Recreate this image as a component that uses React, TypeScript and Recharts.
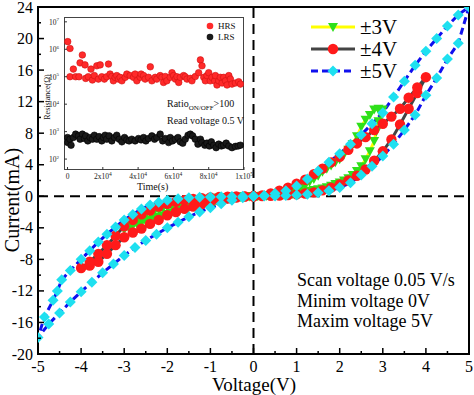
import {
  ComposedChart,
  Line,
  XAxis,
  YAxis,
  ReferenceLine,
  ReferenceArea,
  Legend,
  ScatterChart,
  Scatter,
} from "recharts";

const SERIF = "Liberation Serif, Times New Roman, serif";

// I-V loops, [voltage (V), current (mA)] in sweep order
const loop3: [number, number][] = [
  [0, 0], [0.1, 0.02], [0.2, 0.04], [0.3, 0.06], [0.4, 0.08], [0.5, 0.1], [0.6, 0.15], [0.7, 0.2],
  [0.8, 0.25], [0.9, 0.3], [1, 0.4], [1.1, 0.5], [1.2, 0.6], [1.3, 0.7], [1.4, 0.8], [1.5, 0.9],
  [1.6, 1], [1.7, 1.15], [1.8, 1.35], [1.9, 1.55], [2, 1.75], [2.1, 2], [2.2, 2.3], [2.3, 2.7],
  [2.4, 3.2], [2.5, 3.8], [2.6, 4.7], [2.7, 5.7], [2.8, 7], [2.85, 8.2], [2.9, 9.5], [2.95, 10.5],
  [3, 11], [2.9, 11.1], [2.8, 11], [2.7, 10.3], [2.6, 9.7], [2.5, 8.8], [2.4, 7.6], [2.3, 6.6],
  [2.2, 5.9], [2.1, 5.3], [2, 4.7], [1.9, 4.3], [1.8, 3.9], [1.7, 3.5], [1.6, 3.1], [1.5, 2.6],
  [1.4, 2.2], [1.3, 1.8], [1.2, 1.4], [1.1, 1.1], [1, 0.85], [0.9, 0.65], [0.8, 0.5], [0.7, 0.38],
  [0.6, 0.28], [0.5, 0.2], [0.4, 0.14], [0.3, 0.1], [0.2, 0.06], [0.1, 0.03], [0, 0],
  [-0.1, -0.03], [-0.2, -0.06], [-0.3, -0.1], [-0.4, -0.17], [-0.5, -0.25], [-0.6, -0.33],
  [-0.7, -0.42], [-0.8, -0.52], [-0.9, -0.62], [-1, -0.72], [-1.1, -0.84], [-1.2, -0.96],
  [-1.3, -1.1], [-1.4, -1.25], [-1.5, -1.4], [-1.6, -1.55], [-1.7, -1.7], [-1.8, -1.88],
  [-1.9, -2.06], [-2, -2.25], [-2.1, -2.42], [-2.2, -2.6], [-2.3, -2.78], [-2.4, -2.97],
  [-2.5, -3.16], [-2.6, -3.35], [-2.7, -3.55], [-2.8, -3.75], [-2.9, -3.95], [-3, -4.2],
  [-2.9, -3.6], [-2.8, -3.2], [-2.7, -2.9], [-2.6, -2.6], [-2.5, -2.35], [-2.4, -2.1],
  [-2.3, -1.9], [-2.2, -1.7], [-2.1, -1.5], [-2, -1.35], [-1.9, -1.2], [-1.8, -1.05],
  [-1.7, -0.92], [-1.6, -0.8], [-1.5, -0.7], [-1.4, -0.6], [-1.3, -0.5], [-1.2, -0.42],
  [-1.1, -0.35], [-1, -0.28], [-0.9, -0.22], [-0.8, -0.17], [-0.7, -0.13], [-0.6, -0.1],
  [-0.5, -0.07], [-0.4, -0.05], [-0.3, -0.03], [-0.2, -0.02], [-0.1, -0.01], [0, 0],
];

const loop4: [number, number][] = [
  [0, 0], [0.2, 0.02], [0.4, 0.05], [0.6, 0.1], [0.8, 0.15], [1, 0.25], [1.2, 0.35], [1.4, 0.5],
  [1.6, 0.75], [1.8, 1.1], [2, 1.5], [2.2, 2], [2.4, 2.6], [2.6, 3.4], [2.8, 4.5], [3, 5.7],
  [3.2, 7.2], [3.4, 9.1], [3.6, 11.1], [3.8, 13.1], [4, 15.1],
  [3.8, 13.8], [3.6, 12.5], [3.4, 11.1], [3.2, 10.1], [3, 9.2], [2.8, 8.4], [2.6, 7.5], [2.4, 6.7],
  [2.2, 5.9], [2, 5], [1.8, 4.3], [1.6, 3.5], [1.4, 2.8], [1.2, 2.1], [1, 1.6], [0.8, 1.1],
  [0.6, 0.7], [0.4, 0.35], [0.2, 0.1], [0, 0],
  [-0.2, -0.05], [-0.4, -0.15], [-0.6, -0.3], [-0.8, -0.5], [-1, -0.7], [-1.2, -1], [-1.4, -1.3],
  [-1.6, -1.6], [-1.8, -2], [-2, -2.4], [-2.2, -3], [-2.4, -3.5], [-2.6, -4.1], [-2.8, -4.6],
  [-3, -5.2], [-3.2, -6.2], [-3.4, -7.3], [-3.6, -8.3], [-3.8, -8.8], [-4, -9.1],
  [-3.8, -8.3], [-3.6, -7.3], [-3.4, -6.2], [-3.2, -5], [-3, -3.8], [-2.8, -3], [-2.6, -2.3],
  [-2.4, -1.8], [-2.2, -1.3], [-2, -0.95], [-1.8, -0.7], [-1.6, -0.5], [-1.4, -0.35],
  [-1.2, -0.25], [-1, -0.15], [-0.8, -0.1], [-0.6, -0.06], [-0.4, -0.03], [-0.2, -0.01], [0, 0],
];

const loop5: [number, number][] = [
  [0, 0], [0.25, 0.02], [0.5, 0.05], [0.75, 0.1], [1, 0.15], [1.25, 0.25], [1.5, 0.45],
  [1.75, 0.7], [2, 1.1], [2.25, 1.7], [2.5, 2.7], [2.75, 3.8], [3, 5.1], [3.25, 6.6], [3.5, 8.4],
  [3.75, 10.3], [4, 12.8], [4.25, 15], [4.5, 17.4], [4.75, 19.4], [5, 24],
  [4.75, 23], [4.5, 21.6], [4.25, 20], [4, 18.4], [3.75, 16.6], [3.5, 14.6], [3.25, 12.6],
  [3, 10.6], [2.75, 9.2], [2.5, 7.8], [2.25, 6.6], [2, 5.4], [1.75, 4.3], [1.5, 3.2],
  [1.25, 2.2], [1, 1.3], [0.75, 0.7], [0.5, 0.35], [0.25, 0.1], [0, 0],
  [-0.25, -0.2], [-0.5, -0.5], [-0.75, -0.95], [-1, -1.45], [-1.25, -2], [-1.5, -2.6],
  [-1.75, -3.3], [-2, -4], [-2.25, -4.8], [-2.5, -5.6], [-2.75, -6.5], [-3, -7.5],
  [-3.25, -8.6], [-3.5, -9.7], [-3.75, -10.9], [-4, -12.1], [-4.25, -13.4], [-4.5, -14.8],
  [-4.75, -16.2], [-5, -17.9],
  [-4.85, -15.3], [-4.65, -13.2], [-4.55, -12], [-4.45, -10.6], [-4.25, -9.4], [-4, -8],
  [-3.8, -6.9], [-3.6, -5.8], [-3.4, -4.8], [-3.2, -3.9], [-3, -3], [-2.8, -2.3], [-2.6, -1.6],
  [-2.4, -1.1], [-2.2, -0.75], [-2, -0.5], [-1.75, -0.3], [-1.5, -0.2], [-1.25, -0.12],
  [-1, -0.08], [-0.75, -0.05], [-0.5, -0.03], [-0.25, -0.01], [0, 0],
];

const xTicks = [-5, -4.5, -4, -3.5, -3, -2.5, -2, -1.5, -1, -0.5, 0, 0.5, 1, 1.5, 2, 2.5, 3, 3.5, 4, 4.5, 5];
const yTicks = [-20, -18, -16, -14, -12, -10, -8, -6, -4, -2, 0, 2, 4, 6, 8, 10, 12, 14, 16, 18, 20, 22, 24];
const yMajor = [-20, -16, -12, -8, -4, 0, 4, 8, 12, 16, 20, 24];

// inset: retention, [time (s), resistance (ohm)]
const hrs: [number, number][] = [
  [100, 1.9e6], [1400, 1.07e6], [1400, 1.0e5], [3300, 1.9e5], [4600, 1.0e5], [6500, 1.0e5],
  [7100, 3.2e5], [8400, 6.2e5], [9900, 2.7e5], [10300, 8.7e4], [11800, 1.0e5], [13300, 1.9e5],
  [14100, 7.6e4], [15200, 1.1e5], [16600, 2.5e5], [17500, 8.2e4], [18500, 2.7e5], [19400, 1.0e5],
  [20900, 8.2e4], [22200, 1.0e5], [23200, 2.9e5], [24100, 1.25e5], [25100, 1.02e5], [26000, 7.1e4],
  [27000, 9.5e4], [27900, 1.1e5], [28900, 8.2e4], [29800, 9.5e4], [30800, 7.1e4], [32700, 9.5e4],
  [33600, 1.25e5], [35500, 1.1e5], [37400, 9.5e4], [38300, 1.25e5], [39300, 7.1e4], [41200, 9.5e4],
  [41700, 1.25e5], [43100, 1.1e5], [44000, 8.2e4], [45900, 9.5e4], [46900, 2.3e5], [47800, 7.1e4],
  [49700, 9.5e4], [50600, 8.2e4], [52500, 1.1e5], [53500, 9.5e4], [54400, 6.2e4], [55400, 1.02e5],
  [56300, 7.1e4], [58200, 9.5e4], [59200, 1.4e5], [60100, 1.1e5], [61100, 8.2e4], [62000, 1.0e5],
  [63000, 6.2e4], [63900, 9.5e4], [65800, 1.1e5], [66700, 1.0e5], [67700, 8.2e4], [69600, 8.7e4],
  [70500, 7.1e4], [72400, 1.02e5], [74300, 1.4e5], [75300, 4.1e5], [76200, 2.5e5], [77200, 9.5e4],
  [78100, 7.1e4], [79000, 1.1e5], [80000, 1.4e5], [80900, 7.1e4], [81900, 9.5e4], [83400, 7.1e4],
  [83800, 1.1e5], [84700, 5.0e4], [85700, 7.1e4], [86600, 9.5e4], [87600, 5.9e4], [88500, 9.5e4],
  [89500, 7.1e4], [90400, 5.0e4], [91400, 1.1e5], [92300, 8.2e4], [93200, 5.4e4], [95100, 5.9e4],
  [97000, 6.6e4], [98000, 5.4e4],
];

const lrs: [number, number][] = [
  [0, 610], [100, 400], [1400, 530], [2000, 320], [3300, 610], [4600, 810], [6200, 700],
  [7100, 530], [8400, 810], [9600, 560], [10300, 700], [11500, 460], [12800, 610], [14100, 530],
  [15200, 740], [16600, 530], [17900, 660], [19400, 460], [20400, 610], [21300, 740], [22200, 530],
  [23600, 700], [25100, 460], [26600, 610], [27900, 740], [29300, 530], [30800, 425], [32300, 610],
  [33600, 500], [34900, 460], [36400, 530], [38300, 460], [40200, 560], [41700, 500], [43100, 610],
  [44400, 460], [45900, 560], [47800, 700], [49300, 530], [50600, 610], [52500, 810], [53900, 460],
  [55400, 560], [57300, 400], [58200, 610], [59500, 460], [61100, 530], [62600, 610], [63900, 425],
  [65300, 380], [66700, 530], [68300, 740], [69600, 810], [70900, 700], [72400, 530], [73900, 350],
  [75300, 530], [76200, 400], [77800, 320], [79000, 380], [80400, 300], [81500, 425], [82800, 320],
  [84200, 260], [85700, 350], [87200, 300], [88500, 320], [89900, 380], [91400, 300], [93200, 260],
  [95100, 290], [96700, 300], [98000, 320],
];

const insetXTicks = [0, 20000, 40000, 60000, 80000, 100000];
const insetXLabels = ["0", "2x10|4", "4x10|4", "6x10|4", "8x10|4", "1x10|5"];
const insetYTicks = [100, 1000, 10000, 100000, 1000000, 10000000];

const series = [
  { name: "±3V", data: loop3, line: "#ffff00", mark: "#2ee01a", shape: "tri", dash: undefined },
  { name: "±4V", data: loop4, line: "#444444", mark: "#ff1a1a", shape: "circle", dash: undefined },
  { name: "±5V", data: loop5, line: "#1010ee", mark: "#1ee0f0", shape: "diamond", dash: "7 4" },
];

function Marker({ shape, cx, cy, fill }: { shape: string; cx: number; cy: number; fill: string }) {
  if (cx == null || cy == null) return null;
  if (shape === "tri") {
    const s = 5;
    return <polygon points={`${cx - s},${cy - s * 0.8} ${cx + s},${cy - s * 0.8} ${cx},${cy + s}`} fill={fill} />;
  }
  if (shape === "diamond") {
    const s = 5.5;
    return <polygon points={`${cx},${cy - s} ${cx + s},${cy} ${cx},${cy + s} ${cx - s},${cy}`} fill={fill} />;
  }
  return <circle cx={cx} cy={cy} r={5.2} fill={fill} />;
}

function XTick({ x, y, payload }: any) {
  const major = Number.isInteger(payload.value);
  return (
    <g>
      <line x1={x} x2={x} y1={y} y2={y - (major ? 6 : 3)} stroke="#000" strokeWidth={1.5} />
      {major && (
        <text x={x} y={y + 18} textAnchor="middle" fontSize={16} fontFamily={SERIF} fill="#000">
          {payload.value}
        </text>
      )}
    </g>
  );
}

function YTick({ x, y, payload }: any) {
  const major = yMajor.includes(payload.value);
  return (
    <g>
      <line x1={x} x2={x + (major ? 6 : 3)} y1={y} y2={y} stroke="#000" strokeWidth={1.5} />
      {major && (
        <text x={x - 5} y={y + 5.5} textAnchor="end" fontSize={16} fontFamily={SERIF} fill="#000">
          {payload.value}
        </text>
      )}
    </g>
  );
}

function InsetXTick({ x, y, index }: any) {
  const [base, exp] = insetXLabels[index].split("|");
  return (
    <g>
      <line x1={x} x2={x} y1={y} y2={y - 3} stroke="#333" strokeWidth={1} />
      <text x={x} y={y + 9} textAnchor="middle" fontSize={7.5} fontFamily={SERIF} fill="#222">
        {base}
        {exp && (
          <tspan fontSize={5.5} dy={-3.5}>
            {exp}
          </tspan>
        )}
      </text>
    </g>
  );
}

function InsetYTick({ x, y, payload }: any) {
  const exp = Math.round(Math.log10(payload.value));
  return (
    <g>
      <line x1={x} x2={x + 3} y1={y} y2={y} stroke="#333" strokeWidth={1} />
      <text x={x - 5} y={y + 3} textAnchor="end" fontSize={7.5} fontFamily={SERIF} fill="#222">
        10
        <tspan fontSize={5} dy={-3.5}>
          {exp}
        </tspan>
      </text>
    </g>
  );
}

function MainLegend() {
  return (
    <div style={{ fontFamily: SERIF, fontSize: 21, color: "#000" }}>
      {series.map((s) => (
        <div key={s.name} style={{ display: "flex", alignItems: "center", height: 22 }}>
          <svg width={46} height={20}>
            <line x1={1} x2={45} y1={10} y2={10} stroke={s.line} strokeWidth={3} strokeDasharray={s.dash} />
            <Marker shape={s.shape} cx={23} cy={10} fill={s.mark} />
          </svg>
          <span style={{ marginLeft: 4 }}>{s.name}</span>
        </div>
      ))}
    </div>
  );
}

function InsetLegend() {
  const items = [
    { name: "HRS", fill: "#ff2a2a" },
    { name: "LRS", fill: "#1a1a1a" },
  ];
  return (
    <div style={{ fontFamily: SERIF, fontSize: 9, color: "#111" }}>
      {items.map((it) => (
        <div key={it.name} style={{ display: "flex", alignItems: "center", height: 11 }}>
          <svg width={10} height={10}>
            <circle cx={5} cy={5} r={3.3} fill={it.fill} />
          </svg>
          <span style={{ marginLeft: 3 }}>{it.name}</span>
        </div>
      ))}
    </div>
  );
}

export default function App() {
  const hrsData = hrs.map(([t, r]) => ({ t, r }));
  const lrsData = lrs.map(([t, r]) => ({ t, r }));
  return (
    <div style={{ position: "absolute", left: 0, top: 0, width: 474, height: 395, background: "#fff" }}>
      <ComposedChart width={474} height={395} margin={{ top: 7, right: 5, bottom: 0, left: 0 }}>
        <XAxis
          type="number"
          dataKey="v"
          domain={[-5, 5]}
          ticks={xTicks}
          interval={0}
          height={41}
          tickSize={0}
          tickMargin={0}
          tickLine={false}
          axisLine={false}
          tick={<XTick />}
          allowDataOverflow
        />
        <YAxis
          type="number"
          dataKey="i"
          domain={[-20, 24]}
          ticks={yTicks}
          interval={0}
          width={38}
          tickSize={0}
          tickMargin={0}
          tickLine={false}
          axisLine={false}
          tick={<YTick />}
          allowDataOverflow
        />
        <ReferenceArea x1={-5} x2={5} y1={-20} y2={24} fill="none" stroke="#000" strokeWidth={2} />
        <ReferenceLine y={0} stroke="#000" strokeWidth={2} strokeDasharray="10 6" />
        <ReferenceLine x={0} stroke="#000" strokeWidth={2} strokeDasharray="10 6" />
        {series.map((s) => (
          <Line
            key={s.name}
            data={s.data.map(([v, i]) => ({ v, i }))}
            dataKey="i"
            type="linear"
            stroke={s.line}
            strokeWidth={3}
            strokeDasharray={s.dash}
            isAnimationActive={false}
            dot={(p: any) => <Marker key={p.index} shape={s.shape} cx={p.cx} cy={p.cy} fill={s.mark} />}
            activeDot={false}
          />
        ))}
        <Legend
          layout="vertical"
          align="center"
          verticalAlign="middle"
          content={<MainLegend />}
          wrapperStyle={{ position: "absolute", left: 310, top: 16, width: 120 }}
        />
      </ComposedChart>

      <div
        style={{
          position: "absolute",
          left: 64,
          top: 17,
          width: 180,
          height: 153,
          background: "#fff",
          border: "1px solid #444",
          boxSizing: "border-box",
        }}
      />
      <div style={{ position: "absolute", left: 0, top: 0 }}>
        <ScatterChart width={260} height={200} margin={{ top: 17, right: 16, bottom: 0, left: 38 }}>
          <XAxis
            type="number"
            dataKey="t"
            domain={[-2000, 100000]}
            ticks={insetXTicks}
            interval={0}
            height={30}
            tickSize={0}
            tickMargin={0}
            tickLine={false}
            axisLine={false}
            tick={<InsetXTick />}
            allowDataOverflow
          />
          <YAxis
            type="number"
            dataKey="r"
            scale="log"
            domain={[40, 15000000]}
            ticks={insetYTicks}
            interval={0}
            width={26}
            tickSize={0}
            tickMargin={0}
            tickLine={false}
            axisLine={false}
            tick={<InsetYTick />}
            allowDataOverflow
          />
          <Scatter
            data={hrsData}
            isAnimationActive={false}
            shape={(p: any) => <circle cx={p.cx} cy={p.cy} r={3.3} fill="#ff2a2a" stroke="#d01010" strokeWidth={0.6} />}
          />
          <Scatter
            data={lrsData}
            isAnimationActive={false}
            shape={(p: any) => <circle cx={p.cx} cy={p.cy} r={3.3} fill="#1a1a1a" stroke="#000" strokeWidth={0.6} />}
          />
          <Legend
            layout="vertical"
            align="center"
            verticalAlign="middle"
            content={<InsetLegend />}
            wrapperStyle={{ position: "absolute", left: 205, top: 20, width: 40 }}
          />
        </ScatterChart>
      </div>

      <div style={{ position: "absolute", left: 167, top: 98, fontFamily: SERIF, fontSize: 10, color: "#111", whiteSpace: "nowrap" }}>
        Ratio<sub style={{ fontSize: 7 }}>ON/OFF</sub>&gt;100
      </div>
      <div style={{ position: "absolute", left: 167, top: 115, fontFamily: SERIF, fontSize: 10, color: "#111", whiteSpace: "nowrap" }}>
        Read voltage 0.5 V
      </div>
      <div style={{ position: "absolute", left: 137, top: 181, fontFamily: SERIF, fontSize: 10, lineHeight: "11px", color: "#111" }}>Time(s)</div>
      <div
        style={{
          position: "absolute",
          left: 47,
          top: 97,
          fontFamily: SERIF,
          fontSize: 8,
          color: "#111",
          whiteSpace: "nowrap",
          transform: "translate(-50%, -50%) rotate(-90deg)",
        }}
      >
        Resistance(Ω)
      </div>

      <div style={{ position: "absolute", left: 297, top: 270, fontFamily: SERIF, fontSize: 18, lineHeight: "20.5px", color: "#000", whiteSpace: "nowrap" }}>
        <div>Scan voltage 0.05 V/s</div>
        <div>Minim voltage 0V</div>
        <div>Maxim voltage 5V</div>
      </div>
      <div style={{ position: "absolute", left: 254, top: 384, fontFamily: SERIF, fontSize: 19, lineHeight: "19px", color: "#000", whiteSpace: "nowrap", transform: "translate(-50%, -50%)" }}>
        Voltage(V)
      </div>
      <div
        style={{
          position: "absolute",
          left: 12,
          top: 200,
          fontFamily: SERIF,
          fontSize: 20,
          color: "#000",
          whiteSpace: "nowrap",
          transform: "translate(-50%, -50%) rotate(-90deg)",
        }}
      >
        Current(mA)
      </div>
    </div>
  );
}
